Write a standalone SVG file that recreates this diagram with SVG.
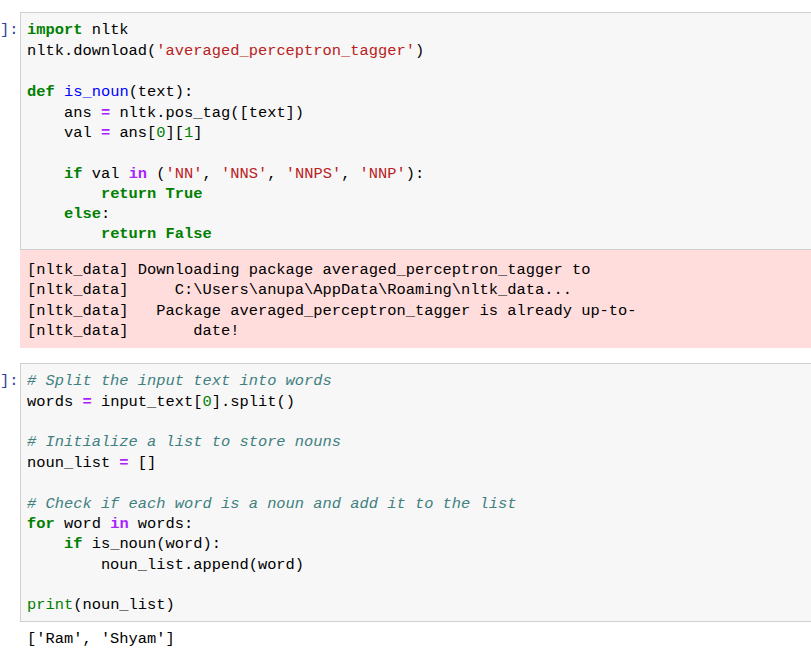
<svg xmlns="http://www.w3.org/2000/svg" width="811" height="666" viewBox="0 0 811 666">
<style>
text{font-family:"Liberation Mono","DejaVu Sans Mono",monospace;font-size:15.4px;fill:#000;white-space:pre}
.k{fill:#008000;font-weight:bold}
.s{fill:#BA2121}
.o{fill:#AA22FF;font-weight:bold}
.n{fill:#008000}
.f{fill:#0000FF}
.c{fill:#408080;font-style:italic}
.p{fill:#303F9F}
</style>
<rect width="811" height="666" fill="#fff"/>
<g id="cell1">
<rect x="20.5" y="12.5" width="795" height="237" fill="#f7f7f7" stroke="#cfcfcf"/>
<text x="0" y="34" class="p">]:</text>
<text xml:space="preserve" x="27" y="34"><tspan class="k">import</tspan> nltk</text>
<text xml:space="preserve" x="27" y="55">nltk.download(<tspan class="s">'averaged_perceptron_tagger'</tspan>)</text>
<text xml:space="preserve" x="27" y="96"><tspan class="k">def</tspan> <tspan class="f">is_noun</tspan>(text):</text>
<text xml:space="preserve" x="27" y="117">    ans <tspan class="o">=</tspan> nltk.pos_tag([text])</text>
<text xml:space="preserve" x="27" y="137">    val <tspan class="o">=</tspan> ans[<tspan class="n">0</tspan>][<tspan class="n">1</tspan>]</text>
<text xml:space="preserve" x="27" y="178">    <tspan class="k">if</tspan> val <tspan class="o">in</tspan> (<tspan class="s">'NN'</tspan>, <tspan class="s">'NNS'</tspan>, <tspan class="s">'NNPS'</tspan>, <tspan class="s">'NNP'</tspan>):</text>
<text xml:space="preserve" x="27" y="198">        <tspan class="k">return</tspan> <tspan class="k">True</tspan></text>
<text xml:space="preserve" x="27" y="218">    <tspan class="k">else</tspan>:</text>
<text xml:space="preserve" x="27" y="238">        <tspan class="k">return</tspan> <tspan class="k">False</tspan></text>
</g>
<g id="output1">
<rect x="20" y="250" width="791" height="98" fill="#ffdddd"/>
<text xml:space="preserve" x="27" y="274">[nltk_data] Downloading package averaged_perceptron_tagger to</text>
<text xml:space="preserve" x="27" y="294">[nltk_data]     C:\Users\anupa\AppData\Roaming\nltk_data...</text>
<text xml:space="preserve" x="27" y="315">[nltk_data]   Package averaged_perceptron_tagger is already up-to-</text>
<text xml:space="preserve" x="27" y="335">[nltk_data]       date!</text>
</g>
<g id="cell2">
<rect x="20.5" y="363.5" width="795" height="258" fill="#f7f7f7" stroke="#cfcfcf"/>
<text x="0" y="385" class="p">]:</text>
<text xml:space="preserve" x="27" y="385" class="c"># Split the input text into words</text>
<text xml:space="preserve" x="27" y="406">words <tspan class="o">=</tspan> input_text[<tspan class="n">0</tspan>].split()</text>
<text xml:space="preserve" x="27" y="446" class="c"># Initialize a list to store nouns</text>
<text xml:space="preserve" x="27" y="467">noun_list <tspan class="o">=</tspan> []</text>
<text xml:space="preserve" x="27" y="508" class="c"># Check if each word is a noun and add it to the list</text>
<text xml:space="preserve" x="27" y="528"><tspan class="k">for</tspan> word <tspan class="o">in</tspan> words:</text>
<text xml:space="preserve" x="27" y="548">    <tspan class="k">if</tspan> is_noun(word):</text>
<text xml:space="preserve" x="27" y="569">        noun_list.append(word)</text>
<text xml:space="preserve" x="27" y="609"><tspan class="n">print</tspan>(noun_list)</text>
</g>
<g id="output2">
<text xml:space="preserve" x="27" y="643">['Ram', 'Shyam']</text>
</g>
<g id="connectors"/>
</svg>
